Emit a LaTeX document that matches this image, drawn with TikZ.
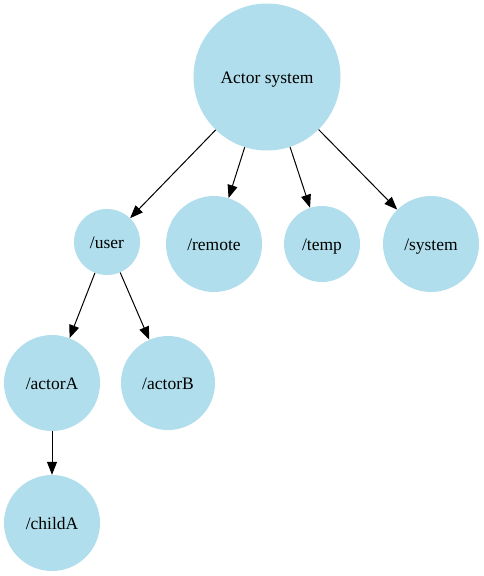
\documentclass[tikz,border=0pt]{standalone}
\usepackage{fontspec}
\setmainfont{Liberation Serif}
\usetikzlibrary{arrows.meta}
\definecolor{nodeblue}{HTML}{B0DEEC}
\begin{document}
\begin{tikzpicture}[x=1pt,y=-1pt,
  nd/.style={circle,fill=nodeblue,inner sep=0pt,text height=14.5pt,text depth=1pt,font=\fontsize{17.5}{20}\selectfont},
  edge/.style={draw=black,line width=1pt,-{Triangle[length=13pt,width=10pt]}}]
\useasboundingbox (0,0) rectangle (484,576);
\node[nd,minimum size=147pt] (actor) at (267,77) {Actor system};
\node[nd,minimum size=66pt] (user) at (107,242) {/user};
\node[nd,minimum size=96pt] (remote) at (214,244) {/remote};
\node[nd,minimum size=76pt] (temp) at (322,244) {/temp};
\node[nd,minimum size=96pt] (system) at (431,244) {/system};
\node[nd,minimum size=96pt] (actorA) at (52,383) {/actorA};
\node[nd,minimum size=94pt] (actorB) at (168,383) {/actorB};
\node[nd,minimum size=96pt] (childA) at (52,523) {/childA};
\draw[edge] (actor) -- (user);
\draw[edge] (actor) -- (remote);
\draw[edge] (actor) -- (temp);
\draw[edge] (actor) -- (system);
\draw[edge] (user) -- (actorA);
\draw[edge] (user) -- (actorB);
\draw[edge] (actorA) -- (childA);
\end{tikzpicture}
\end{document}
